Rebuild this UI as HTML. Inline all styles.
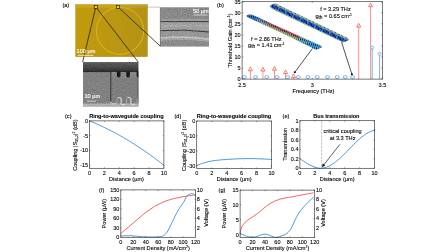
<!DOCTYPE html>
<html><head><meta charset="utf-8"><title>Figure</title>
<style>
html,body{margin:0;padding:0;background:#fff;}
body{width:448px;height:252px;overflow:hidden;}
svg{display:block;filter:blur(0.3px);}
text{font-family:"Liberation Sans",Arial,sans-serif;font-size:5.6px;fill:#0a0a0a;stroke:#0a0a0a;stroke-width:0.12px;}
.b{font-weight:bold;}
.w{fill:#fff;stroke:#fff;}
.ax{fill:none;stroke:#303030;stroke-width:0.65;}
.tk{stroke:#262626;stroke-width:0.5;fill:none;}
.bl{fill:none;stroke:#3a8fd0;stroke-width:0.9;stroke-linejoin:round;stroke-linecap:round;}
.rd{fill:none;stroke:#f05050;stroke-width:0.9;stroke-linejoin:round;stroke-linecap:round;}
</style></head><body>
<svg width="448" height="252" viewBox="0 0 448 252">
<defs>
<linearGradient id="gold" x1="0" y1="0" x2="1" y2="0">
<stop offset="0" stop-color="#c29a0c"/><stop offset="0.5" stop-color="#bb9712"/><stop offset="1" stop-color="#b39216"/>
</linearGradient>
<linearGradient id="semtop" x1="0" y1="0" x2="0" y2="1">
<stop offset="0" stop-color="#5a5a5a"/><stop offset="0.5" stop-color="#444"/><stop offset="0.85" stop-color="#2c2c2c"/><stop offset="1" stop-color="#1c1c1c"/>
</linearGradient>
<linearGradient id="rb1" gradientUnits="userSpaceOnUse" x1="0" y1="0" x2="3.2" y2="1.4" spreadMethod="repeat">
<stop offset="0" stop-color="#0a1a9a"/><stop offset="0.25" stop-color="#10b0e0"/><stop offset="0.45" stop-color="#40c040"/><stop offset="0.6" stop-color="#e0d020"/><stop offset="0.8" stop-color="#e04010"/><stop offset="1" stop-color="#0a1a9a"/>
</linearGradient>
<linearGradient id="rb2" gradientUnits="userSpaceOnUse" x1="0" y1="0" x2="4.2" y2="1.85" spreadMethod="repeat">
<stop offset="0" stop-color="#0a1a9a"/><stop offset="0.3" stop-color="#1060d0"/><stop offset="0.5" stop-color="#20b0c0"/><stop offset="0.65" stop-color="#c0d020"/><stop offset="0.8" stop-color="#e04010"/><stop offset="1" stop-color="#0a1a9a"/>
</linearGradient>
<filter id="grain" x="0" y="0" width="1" height="1" color-interpolation-filters="sRGB">
<feTurbulence type="fractalNoise" baseFrequency="0.75" numOctaves="2" seed="7" result="n"/>
<feColorMatrix in="n" type="matrix" values="2 0 0 0 -0.5  2 0 0 0 -0.5  2 0 0 0 -0.5  0 0 0 0 0.16"/>
</filter>
</defs>
<rect width="448" height="252" fill="#fff"/>

<text x="62.4" y="7.2">(a)</text>
<rect x="75.6" y="4.6" width="71.9" height="52.1" fill="url(#gold)" stroke="#a4840c" stroke-width="0.4"/>
<rect x="75.8" y="4.8" width="71.5" height="2.9" fill="#d8b01c" opacity="0.55"/>
<circle cx="120" cy="30.8" r="23.6" fill="none" stroke="#d9b31c" stroke-width="1.05"/>
<path d="M95.8 7 L82.6 62.1 M95.8 7 L138.3 62.1" stroke="#30280a" stroke-width="0.85" fill="none"/>
<path d="M118 6.6 L160.4 7.2" stroke="#8a8a8a" stroke-width="0.5" fill="none"/>
<path d="M118 7 L160.3 46.2" stroke="#30280a" stroke-width="0.85" fill="none"/>
<rect x="94.2" y="5.6" width="3.2" height="2.8" fill="#f4d418" stroke="#2a2204" stroke-width="0.7"/>
<rect x="116.4" y="5.6" width="3.2" height="2.8" fill="#f4d418" stroke="#2a2204" stroke-width="0.7"/>
<text class="w" x="76.6" y="52.8" style="font-size:5.6px">100 µm</text>
<path d="M77.7 55.3H93.4" stroke="#f6f0d8" stroke-width="0.85"/>
<g>
<rect x="160.3" y="7.3" width="48.7" height="38.9" fill="#8a8a8a"/>
<rect x="160.3" y="18.8" width="48.7" height="2.4" fill="#a0a0a0"/>
<rect x="160.3" y="22.1" width="48.7" height="8.6" fill="#a3a3a3"/>
<rect x="160.3" y="25.2" width="48.7" height="1.3" fill="#b0b0b0"/>
<path d="M160.3 30.6 Q184 28.9 209 32 V46.2 H160.3 Z" fill="#999"/>
<path d="M160.3 38.2 Q184 35.6 209 39.2 V42 Q184 38.6 160.3 41 Z" fill="#a8a8a8"/>
<path d="M160.3 41 Q184 38.6 209 42 V46.2 H160.3 Z" fill="#8c8c8c"/>
<path d="M160.3 21.6H209" stroke="#303030" stroke-width="0.95"/>
<path d="M160.3 30.7 Q184 28.9 209 32" stroke="#2a2a2a" stroke-width="0.95" fill="none"/>
<path d="M160.3 38.2 Q184 35.6 209 39.2" stroke="#e6e6e6" stroke-width="1.3" fill="none" stroke-dasharray="1.1 0.35"/>
<rect x="160.3" y="7.3" width="48.7" height="38.9" fill="#808080" filter="url(#grain)" opacity="0.75"/>
<path d="M160.3 7.3V46.2" stroke="#555" stroke-width="0.5"/>
<text class="w" x="193" y="12.7" style="font-size:5.6px">50 µm</text>
<path d="M193.5 15H207.6" stroke="#f0f0f0" stroke-width="0.7"/>
</g>
<g>
<rect x="83" y="62.1" width="55.3" height="44.3" fill="#818181"/>
<rect x="83" y="62.1" width="55.3" height="10" fill="url(#semtop)"/>
<rect x="111.2" y="72" width="27.1" height="31.5" fill="#7e7e7e"/>
<rect x="111.2" y="72" width="27.1" height="5.4" fill="#888"/>
<path d="M110.8 72V101.6" stroke="#262626" stroke-width="0.9"/>
<path d="M116.90 71.4 V75.8 Q116.90 77.4 118.70 77.4 Q120.50 77.4 120.50 75.8 V71.4 Z" fill="#101010"/>
<path d="M126.25 71.4 V75.8 Q126.25 77.4 128.05 77.4 Q129.85 77.4 129.85 75.8 V71.4 Z" fill="#101010"/>
<path d="M136.6 71.4 V76 Q136.6 77.4 138.3 77.4 V71.4 Z" fill="#101010"/>
<rect x="137.4" y="77" width="0.9" height="26" fill="#5c5c5c"/>
<rect x="83" y="103.5" width="55.3" height="2.9" fill="#b6b6b6"/>
<rect x="83" y="102.9" width="28" height="0.7" fill="#9a9a9a"/>
<path d="M111.5 104.3 H116.9 V98.6 Q116.9 97.6 117.9 97.6 H120 Q121.1 97.6 121.1 98.8 V103.4 Q121.1 104.4 122.2 104.4 H126.5 V98.6 Q126.5 97.6 127.5 97.6 H129.8 Q130.9 97.6 130.9 98.8 V103.4 Q130.9 104.4 132 104.4 H137 V98.6" stroke="#c4c4c4" stroke-width="0.6" fill="none"/>
<path d="M118 97.6 H120 Q121.1 97.6 121.1 98.8 V103.4 Q121.1 104.4 122.2 104.4 H125 M127.6 97.6 H129.8 Q130.9 97.6 130.9 98.8 V103.4 Q130.9 104.4 132 104.4 H135" stroke="#efefef" stroke-width="0.8" fill="none"/>
<circle cx="110.9" cy="102.6" r="0.7" fill="#eee"/><path d="M111.4 103.6 H116" stroke="#e4e4e4" stroke-width="0.6"/>
<rect x="83" y="62.1" width="55.3" height="44.3" fill="#808080" filter="url(#grain)" opacity="0.6"/>
<text class="w" x="84.4" y="98.1" style="font-size:5.6px">10 µm</text>
<path d="M87 101.2H96" stroke="#f0f0f0" stroke-width="0.7"/>
</g>
<text x="217" y="6.8">(b)</text>
<path d="M250.4 79.1V69.3" stroke="#f05050" stroke-width="0.6"/>
<path d="M250.40 67.20 L248.40 70.80 L252.40 70.80 Z" fill="#fff" stroke="#f03030" stroke-width="0.65"/>
<path d="M262.9 79.1V69.5" stroke="#f05050" stroke-width="0.6"/>
<path d="M262.90 67.40 L260.90 71.00 L264.90 71.00 Z" fill="#fff" stroke="#f03030" stroke-width="0.65"/>
<path d="M274.5 79.1V68.7" stroke="#f05050" stroke-width="0.6"/>
<path d="M274.50 66.60 L272.50 70.20 L276.50 70.20 Z" fill="#fff" stroke="#f03030" stroke-width="0.65"/>
<path d="M285.5 79.1V72.1" stroke="#f05050" stroke-width="0.6"/>
<path d="M285.50 70.00 L283.50 73.60 L287.50 73.60 Z" fill="#fff" stroke="#f03030" stroke-width="0.65"/>
<path d="M293.5 79.1V76.1" stroke="#f05050" stroke-width="0.6"/>
<path d="M293.50 74.00 L291.50 77.60 L295.50 77.60 Z" fill="#fff" stroke="#f03030" stroke-width="0.65"/>
<path d="M244.4 79.1V77" stroke="#3a8fd0" stroke-width="0.6"/>
<ellipse cx="244.4" cy="77.1" rx="2.0" ry="1.45" fill="#fff" stroke="#4a98d8" stroke-width="0.7"/>
<path d="M255.5 79.1V77" stroke="#3a8fd0" stroke-width="0.6"/>
<ellipse cx="255.5" cy="77.1" rx="2.0" ry="1.45" fill="#fff" stroke="#4a98d8" stroke-width="0.7"/>
<path d="M266.7 79.1V77" stroke="#3a8fd0" stroke-width="0.6"/>
<ellipse cx="266.7" cy="77.1" rx="2.0" ry="1.45" fill="#fff" stroke="#4a98d8" stroke-width="0.7"/>
<path d="M277.0 79.1V77" stroke="#3a8fd0" stroke-width="0.6"/>
<ellipse cx="277.0" cy="77.1" rx="2.0" ry="1.45" fill="#fff" stroke="#4a98d8" stroke-width="0.7"/>
<path d="M287.6 79.1V77" stroke="#3a8fd0" stroke-width="0.6"/>
<ellipse cx="287.6" cy="77.1" rx="2.0" ry="1.45" fill="#fff" stroke="#4a98d8" stroke-width="0.7"/>
<path d="M298.3 79.1V77" stroke="#3a8fd0" stroke-width="0.6"/>
<ellipse cx="298.3" cy="77.1" rx="2.0" ry="1.45" fill="#fff" stroke="#4a98d8" stroke-width="0.7"/>
<path d="M307.8 79.1V77" stroke="#3a8fd0" stroke-width="0.6"/>
<ellipse cx="307.8" cy="77.1" rx="2.0" ry="1.45" fill="#fff" stroke="#4a98d8" stroke-width="0.7"/>
<path d="M317.3 79.1V77" stroke="#3a8fd0" stroke-width="0.6"/>
<ellipse cx="317.3" cy="77.1" rx="2.0" ry="1.45" fill="#fff" stroke="#4a98d8" stroke-width="0.7"/>
<path d="M327.5 79.1V77" stroke="#3a8fd0" stroke-width="0.6"/>
<ellipse cx="327.5" cy="77.1" rx="2.0" ry="1.45" fill="#fff" stroke="#4a98d8" stroke-width="0.7"/>
<path d="M337.2 79.1V77" stroke="#3a8fd0" stroke-width="0.6"/>
<ellipse cx="337.2" cy="77.1" rx="2.0" ry="1.45" fill="#fff" stroke="#4a98d8" stroke-width="0.7"/>
<path d="M345.2 79.1V77" stroke="#3a8fd0" stroke-width="0.6"/>
<ellipse cx="345.2" cy="77.1" rx="2.0" ry="1.45" fill="#fff" stroke="#4a98d8" stroke-width="0.7"/>
<path d="M352.5 79.1V77" stroke="#3a8fd0" stroke-width="0.6"/>
<ellipse cx="352.5" cy="77.1" rx="2.0" ry="1.45" fill="#fff" stroke="#4a98d8" stroke-width="0.7"/>
<path d="M358.7 79.1V25.5" stroke="#f06060" stroke-width="0.7"/>
<path d="M358.70 23.40 L356.70 27.00 L360.70 27.00 Z" fill="#fff" stroke="#f03030" stroke-width="0.65"/>
<path d="M370.6 79.1V5.2" stroke="#f06060" stroke-width="0.7"/>
<path d="M370.60 3.10 L368.60 6.70 L372.60 6.70 Z" fill="#fff" stroke="#f03030" stroke-width="0.65"/>
<path d="M372.2 79.1V47.6" stroke="#3a8fd0" stroke-width="0.7"/>
<circle cx="372.2" cy="47.6" r="1.5" fill="#fff" stroke="#3a8fd0" stroke-width="0.6"/>
<path d="M379.6 79.1V53.8" stroke="#3a8fd0" stroke-width="0.7"/>
<circle cx="379.6" cy="53.8" r="1.5" fill="#fff" stroke="#3a8fd0" stroke-width="0.6"/>
<rect class="ax" x="242.1" y="1.7" width="140.3" height="77.4"/>
<path class="tk" d="M242.1 79.10h1.2M382.4 79.10h-1.2"/>
<text x="240.6" y="81.00" text-anchor="end" style="font-size:5.5px">0</text>
<path class="tk" d="M242.1 68.04h1.2M382.4 68.04h-1.2"/>
<text x="240.6" y="69.94" text-anchor="end" style="font-size:5.5px">5</text>
<path class="tk" d="M242.1 56.99h1.2M382.4 56.99h-1.2"/>
<text x="240.6" y="58.89" text-anchor="end" style="font-size:5.5px">10</text>
<path class="tk" d="M242.1 45.93h1.2M382.4 45.93h-1.2"/>
<text x="240.6" y="47.83" text-anchor="end" style="font-size:5.5px">15</text>
<path class="tk" d="M242.1 34.87h1.2M382.4 34.87h-1.2"/>
<text x="240.6" y="36.77" text-anchor="end" style="font-size:5.5px">20</text>
<path class="tk" d="M242.1 23.81h1.2M382.4 23.81h-1.2"/>
<text x="240.6" y="25.71" text-anchor="end" style="font-size:5.5px">25</text>
<path class="tk" d="M242.1 12.76h1.2M382.4 12.76h-1.2"/>
<text x="240.6" y="14.66" text-anchor="end" style="font-size:5.5px">30</text>
<path class="tk" d="M242.1 1.70h1.2M382.4 1.70h-1.2"/>
<text x="240.6" y="3.60" text-anchor="end" style="font-size:5.5px">35</text>
<path class="tk" d="M242.1 79.1v-1.2M242.1 1.7v1.2"/>
<text x="242.1" y="86.6" text-anchor="middle" style="font-size:5.5px">2.5</text>
<path class="tk" d="M312.2 79.1v-1.2M312.2 1.7v1.2"/>
<text x="312.2" y="86.6" text-anchor="middle" style="font-size:5.5px">3</text>
<path class="tk" d="M382.4 79.1v-1.2M382.4 1.7v1.2"/>
<text x="382.4" y="86.6" text-anchor="middle" style="font-size:5.5px">3.5</text>
<text x="313.5" y="93.4" text-anchor="middle">Frequency (THz)</text>
<text transform="translate(231.6 40.5) rotate(-90)" text-anchor="middle">Threshold Gain (cm<tspan dy="-1.8" style="font-size:3.6px">-1</tspan><tspan dy="1.8">)</tspan></text>
<clipPath id="wg1"><polygon points="246.3,15.8 248.8,14.5 252.2,14.7 286,29.9 321.3,45.6 321.8,47.6 316.2,49.8 286,35.0 248.2,17.5"/></clipPath>
<g clip-path="url(#wg1)"><g transform="matrix(0.9121 0.4099 -0.3090 0.9511 251.80 14.20)">
<rect x="-6.00" y="-1.00" width="1.05" height="10.00" fill="#050c66"/>
<rect x="-5.00" y="-1.00" width="1.05" height="10.00" fill="#1280c0"/>
<rect x="-4.00" y="-1.00" width="1.05" height="10.00" fill="#050c66"/>
<rect x="-3.00" y="-1.00" width="1.05" height="10.00" fill="#1280c0"/>
<rect x="-2.00" y="-1.00" width="1.05" height="10.00" fill="#050c66"/>
<rect x="-1.00" y="-1.00" width="1.05" height="10.00" fill="#1280c0"/>
<rect x="0.00" y="-1.00" width="1.05" height="10.00" fill="#050c66"/>
<rect x="1.00" y="-1.00" width="1.05" height="10.00" fill="#1280c0"/>
<rect x="2.00" y="-1.00" width="1.05" height="10.00" fill="#050c66"/>
<rect x="3.00" y="-1.00" width="1.05" height="10.00" fill="#1280c0"/>
<rect x="4.00" y="-1.00" width="1.05" height="10.00" fill="#050c66"/>
<rect x="5.00" y="-1.00" width="1.05" height="10.00" fill="#1280c0"/>
<rect x="6.00" y="-1.00" width="1.05" height="3.80" fill="#060e70"/>
<rect x="7.00" y="-1.00" width="1.05" height="3.80" fill="#1890c4"/>
<rect x="6.00" y="2.80" width="1.05" height="6.20" fill="#144098"/>
<rect x="7.00" y="2.80" width="1.05" height="6.20" fill="#50b858"/>
<rect x="8.00" y="-1.00" width="1.05" height="3.80" fill="#060e70"/>
<rect x="9.00" y="-1.00" width="1.05" height="3.80" fill="#1890c4"/>
<rect x="8.00" y="2.80" width="1.05" height="6.20" fill="#144098"/>
<rect x="9.00" y="2.80" width="1.05" height="6.20" fill="#50b858"/>
<rect x="10.00" y="-1.00" width="1.05" height="2.80" fill="#08127c"/>
<rect x="11.00" y="-1.00" width="1.05" height="2.80" fill="#1c98c8"/>
<rect x="10.00" y="1.80" width="1.05" height="1.40" fill="#0c1880"/>
<rect x="11.00" y="1.80" width="1.05" height="1.40" fill="#d06020"/>
<rect x="10.00" y="3.20" width="1.05" height="5.80" fill="#18408c"/>
<rect x="11.00" y="3.20" width="1.05" height="5.80" fill="#a0c838"/>
<rect x="12.00" y="-1.00" width="1.05" height="2.80" fill="#08127c"/>
<rect x="13.00" y="-1.00" width="1.05" height="2.80" fill="#1c98c8"/>
<rect x="12.00" y="1.80" width="1.05" height="1.40" fill="#0c1880"/>
<rect x="13.00" y="1.80" width="1.05" height="1.40" fill="#d06020"/>
<rect x="12.00" y="3.20" width="1.05" height="5.80" fill="#18408c"/>
<rect x="13.00" y="3.20" width="1.05" height="5.80" fill="#a0c838"/>
<rect x="14.00" y="-1.00" width="1.05" height="2.80" fill="#08127c"/>
<rect x="15.00" y="-1.00" width="1.05" height="2.80" fill="#1c98c8"/>
<rect x="14.00" y="1.80" width="1.05" height="1.40" fill="#0c1880"/>
<rect x="15.00" y="1.80" width="1.05" height="1.40" fill="#d06020"/>
<rect x="14.00" y="3.20" width="1.05" height="5.80" fill="#18408c"/>
<rect x="15.00" y="3.20" width="1.05" height="5.80" fill="#a0c838"/>
<rect x="16.00" y="-1.00" width="1.05" height="2.80" fill="#08127c"/>
<rect x="17.00" y="-1.00" width="1.05" height="2.80" fill="#1c98c8"/>
<rect x="16.00" y="1.80" width="1.05" height="1.40" fill="#0c1880"/>
<rect x="17.00" y="1.80" width="1.05" height="1.40" fill="#d06020"/>
<rect x="16.00" y="3.20" width="1.05" height="5.80" fill="#18408c"/>
<rect x="17.00" y="3.20" width="1.05" height="5.80" fill="#a0c838"/>
<rect x="18.00" y="-1.00" width="1.05" height="1.90" fill="#b83818"/>
<rect x="19.00" y="-1.00" width="1.05" height="1.90" fill="#d87028"/>
<rect x="18.00" y="0.90" width="1.05" height="2.00" fill="#080e66"/>
<rect x="19.00" y="0.90" width="1.05" height="2.00" fill="#c83414"/>
<rect x="18.00" y="2.90" width="1.05" height="1.10" fill="#0c2080"/>
<rect x="19.00" y="2.90" width="1.05" height="1.10" fill="#d89818"/>
<rect x="18.00" y="4.00" width="1.05" height="5.00" fill="#1c8858"/>
<rect x="19.00" y="4.00" width="1.05" height="5.00" fill="#a8c828"/>
<rect x="20.00" y="-1.00" width="1.05" height="1.90" fill="#b83818"/>
<rect x="21.00" y="-1.00" width="1.05" height="1.90" fill="#d87028"/>
<rect x="20.00" y="0.90" width="1.05" height="2.00" fill="#080e66"/>
<rect x="21.00" y="0.90" width="1.05" height="2.00" fill="#c83414"/>
<rect x="20.00" y="2.90" width="1.05" height="1.10" fill="#0c2080"/>
<rect x="21.00" y="2.90" width="1.05" height="1.10" fill="#d89818"/>
<rect x="20.00" y="4.00" width="1.05" height="5.00" fill="#1c8858"/>
<rect x="21.00" y="4.00" width="1.05" height="5.00" fill="#a8c828"/>
<rect x="22.00" y="-1.00" width="1.05" height="1.90" fill="#b83818"/>
<rect x="23.00" y="-1.00" width="1.05" height="1.90" fill="#d87028"/>
<rect x="22.00" y="0.90" width="1.05" height="2.00" fill="#080e66"/>
<rect x="23.00" y="0.90" width="1.05" height="2.00" fill="#c83414"/>
<rect x="22.00" y="2.90" width="1.05" height="1.10" fill="#0c2080"/>
<rect x="23.00" y="2.90" width="1.05" height="1.10" fill="#d89818"/>
<rect x="22.00" y="4.00" width="1.05" height="5.00" fill="#1c8858"/>
<rect x="23.00" y="4.00" width="1.05" height="5.00" fill="#a8c828"/>
<rect x="24.00" y="-1.00" width="1.05" height="1.90" fill="#b83818"/>
<rect x="25.00" y="-1.00" width="1.05" height="1.90" fill="#d87028"/>
<rect x="24.00" y="0.90" width="1.05" height="2.00" fill="#080e66"/>
<rect x="25.00" y="0.90" width="1.05" height="2.00" fill="#c83414"/>
<rect x="24.00" y="2.90" width="1.05" height="1.10" fill="#0c2080"/>
<rect x="25.00" y="2.90" width="1.05" height="1.10" fill="#d89818"/>
<rect x="24.00" y="4.00" width="1.05" height="5.00" fill="#1c8858"/>
<rect x="25.00" y="4.00" width="1.05" height="5.00" fill="#a8c828"/>
<rect x="26.00" y="-1.00" width="1.05" height="1.90" fill="#b83818"/>
<rect x="27.00" y="-1.00" width="1.05" height="1.90" fill="#d87028"/>
<rect x="26.00" y="0.90" width="1.05" height="2.00" fill="#080e66"/>
<rect x="27.00" y="0.90" width="1.05" height="2.00" fill="#c83414"/>
<rect x="26.00" y="2.90" width="1.05" height="1.10" fill="#0c2080"/>
<rect x="27.00" y="2.90" width="1.05" height="1.10" fill="#d89818"/>
<rect x="26.00" y="4.00" width="1.05" height="5.00" fill="#1c8858"/>
<rect x="27.00" y="4.00" width="1.05" height="5.00" fill="#a8c828"/>
<rect x="28.00" y="-1.00" width="1.05" height="1.90" fill="#b83818"/>
<rect x="29.00" y="-1.00" width="1.05" height="1.90" fill="#d87028"/>
<rect x="28.00" y="0.90" width="1.05" height="2.00" fill="#080e66"/>
<rect x="29.00" y="0.90" width="1.05" height="2.00" fill="#c83414"/>
<rect x="28.00" y="2.90" width="1.05" height="1.10" fill="#0c2080"/>
<rect x="29.00" y="2.90" width="1.05" height="1.10" fill="#d89818"/>
<rect x="28.00" y="4.00" width="1.05" height="5.00" fill="#1c8858"/>
<rect x="29.00" y="4.00" width="1.05" height="5.00" fill="#a8c828"/>
<rect x="30.00" y="-1.00" width="1.05" height="1.90" fill="#b83818"/>
<rect x="31.00" y="-1.00" width="1.05" height="1.90" fill="#d87028"/>
<rect x="30.00" y="0.90" width="1.05" height="2.00" fill="#080e66"/>
<rect x="31.00" y="0.90" width="1.05" height="2.00" fill="#c83414"/>
<rect x="30.00" y="2.90" width="1.05" height="1.10" fill="#0c2080"/>
<rect x="31.00" y="2.90" width="1.05" height="1.10" fill="#d89818"/>
<rect x="30.00" y="4.00" width="1.05" height="5.00" fill="#1c8858"/>
<rect x="31.00" y="4.00" width="1.05" height="5.00" fill="#a8c828"/>
<rect x="32.00" y="-1.00" width="1.05" height="1.90" fill="#b83818"/>
<rect x="33.00" y="-1.00" width="1.05" height="1.90" fill="#d87028"/>
<rect x="32.00" y="0.90" width="1.05" height="2.00" fill="#080e66"/>
<rect x="33.00" y="0.90" width="1.05" height="2.00" fill="#c83414"/>
<rect x="32.00" y="2.90" width="1.05" height="1.10" fill="#0c2080"/>
<rect x="33.00" y="2.90" width="1.05" height="1.10" fill="#d89818"/>
<rect x="32.00" y="4.00" width="1.05" height="5.00" fill="#1c8858"/>
<rect x="33.00" y="4.00" width="1.05" height="5.00" fill="#a8c828"/>
<rect x="34.00" y="-1.00" width="1.05" height="1.90" fill="#b83818"/>
<rect x="35.00" y="-1.00" width="1.05" height="1.90" fill="#d87028"/>
<rect x="34.00" y="0.90" width="1.05" height="2.00" fill="#080e66"/>
<rect x="35.00" y="0.90" width="1.05" height="2.00" fill="#c83414"/>
<rect x="34.00" y="2.90" width="1.05" height="1.10" fill="#0c2080"/>
<rect x="35.00" y="2.90" width="1.05" height="1.10" fill="#d89818"/>
<rect x="34.00" y="4.00" width="1.05" height="5.00" fill="#1c8858"/>
<rect x="35.00" y="4.00" width="1.05" height="5.00" fill="#a8c828"/>
<rect x="36.00" y="-1.00" width="1.05" height="1.90" fill="#b83818"/>
<rect x="37.00" y="-1.00" width="1.05" height="1.90" fill="#d87028"/>
<rect x="36.00" y="0.90" width="1.05" height="2.00" fill="#080e66"/>
<rect x="37.00" y="0.90" width="1.05" height="2.00" fill="#c83414"/>
<rect x="36.00" y="2.90" width="1.05" height="1.10" fill="#0c2080"/>
<rect x="37.00" y="2.90" width="1.05" height="1.10" fill="#d89818"/>
<rect x="36.00" y="4.00" width="1.05" height="5.00" fill="#1c8858"/>
<rect x="37.00" y="4.00" width="1.05" height="5.00" fill="#a8c828"/>
<rect x="38.00" y="-1.00" width="1.05" height="1.90" fill="#b83818"/>
<rect x="39.00" y="-1.00" width="1.05" height="1.90" fill="#d87028"/>
<rect x="38.00" y="0.90" width="1.05" height="2.00" fill="#080e66"/>
<rect x="39.00" y="0.90" width="1.05" height="2.00" fill="#c83414"/>
<rect x="38.00" y="2.90" width="1.05" height="1.10" fill="#0c2080"/>
<rect x="39.00" y="2.90" width="1.05" height="1.10" fill="#d89818"/>
<rect x="38.00" y="4.00" width="1.05" height="5.00" fill="#1c8858"/>
<rect x="39.00" y="4.00" width="1.05" height="5.00" fill="#a8c828"/>
<rect x="40.00" y="-1.00" width="1.05" height="1.90" fill="#b83818"/>
<rect x="41.00" y="-1.00" width="1.05" height="1.90" fill="#d87028"/>
<rect x="40.00" y="0.90" width="1.05" height="2.00" fill="#080e66"/>
<rect x="41.00" y="0.90" width="1.05" height="2.00" fill="#c83414"/>
<rect x="40.00" y="2.90" width="1.05" height="1.10" fill="#0c2080"/>
<rect x="41.00" y="2.90" width="1.05" height="1.10" fill="#d89818"/>
<rect x="40.00" y="4.00" width="1.05" height="5.00" fill="#1c8858"/>
<rect x="41.00" y="4.00" width="1.05" height="5.00" fill="#a8c828"/>
<rect x="42.00" y="-1.00" width="1.05" height="1.90" fill="#b83818"/>
<rect x="43.00" y="-1.00" width="1.05" height="1.90" fill="#d87028"/>
<rect x="42.00" y="0.90" width="1.05" height="2.00" fill="#080e66"/>
<rect x="43.00" y="0.90" width="1.05" height="2.00" fill="#c83414"/>
<rect x="42.00" y="2.90" width="1.05" height="1.10" fill="#0c2080"/>
<rect x="43.00" y="2.90" width="1.05" height="1.10" fill="#d89818"/>
<rect x="42.00" y="4.00" width="1.05" height="5.00" fill="#1c8858"/>
<rect x="43.00" y="4.00" width="1.05" height="5.00" fill="#a8c828"/>
<rect x="44.00" y="-1.00" width="1.05" height="1.90" fill="#b83818"/>
<rect x="45.00" y="-1.00" width="1.05" height="1.90" fill="#d87028"/>
<rect x="44.00" y="0.90" width="1.05" height="2.00" fill="#080e66"/>
<rect x="45.00" y="0.90" width="1.05" height="2.00" fill="#c83414"/>
<rect x="44.00" y="2.90" width="1.05" height="1.10" fill="#0c2080"/>
<rect x="45.00" y="2.90" width="1.05" height="1.10" fill="#d89818"/>
<rect x="44.00" y="4.00" width="1.05" height="5.00" fill="#1c8858"/>
<rect x="45.00" y="4.00" width="1.05" height="5.00" fill="#a8c828"/>
<rect x="46.00" y="-1.00" width="1.05" height="1.90" fill="#b83818"/>
<rect x="47.00" y="-1.00" width="1.05" height="1.90" fill="#d87028"/>
<rect x="46.00" y="0.90" width="1.05" height="2.00" fill="#080e66"/>
<rect x="47.00" y="0.90" width="1.05" height="2.00" fill="#c83414"/>
<rect x="46.00" y="2.90" width="1.05" height="1.10" fill="#0c2080"/>
<rect x="47.00" y="2.90" width="1.05" height="1.10" fill="#d89818"/>
<rect x="46.00" y="4.00" width="1.05" height="5.00" fill="#1c8858"/>
<rect x="47.00" y="4.00" width="1.05" height="5.00" fill="#a8c828"/>
<rect x="48.00" y="-1.00" width="1.05" height="1.90" fill="#b83818"/>
<rect x="49.00" y="-1.00" width="1.05" height="1.90" fill="#d87028"/>
<rect x="48.00" y="0.90" width="1.05" height="2.00" fill="#080e66"/>
<rect x="49.00" y="0.90" width="1.05" height="2.00" fill="#c83414"/>
<rect x="48.00" y="2.90" width="1.05" height="1.10" fill="#0c2080"/>
<rect x="49.00" y="2.90" width="1.05" height="1.10" fill="#d89818"/>
<rect x="48.00" y="4.00" width="1.05" height="5.00" fill="#1c8858"/>
<rect x="49.00" y="4.00" width="1.05" height="5.00" fill="#a8c828"/>
<rect x="50.00" y="-1.00" width="1.05" height="1.90" fill="#b83818"/>
<rect x="51.00" y="-1.00" width="1.05" height="1.90" fill="#d87028"/>
<rect x="50.00" y="0.90" width="1.05" height="2.00" fill="#080e66"/>
<rect x="51.00" y="0.90" width="1.05" height="2.00" fill="#c83414"/>
<rect x="50.00" y="2.90" width="1.05" height="1.10" fill="#0c2080"/>
<rect x="51.00" y="2.90" width="1.05" height="1.10" fill="#d89818"/>
<rect x="50.00" y="4.00" width="1.05" height="5.00" fill="#1c8858"/>
<rect x="51.00" y="4.00" width="1.05" height="5.00" fill="#a8c828"/>
<rect x="52.00" y="-1.00" width="1.05" height="1.90" fill="#c8a020"/>
<rect x="53.00" y="-1.00" width="1.05" height="1.90" fill="#a0c840"/>
<rect x="52.00" y="0.90" width="1.05" height="2.70" fill="#0a1678"/>
<rect x="53.00" y="0.90" width="1.05" height="2.70" fill="#28b0c0"/>
<rect x="52.00" y="3.60" width="1.05" height="5.40" fill="#143090"/>
<rect x="53.00" y="3.60" width="1.05" height="5.40" fill="#58c060"/>
<rect x="54.00" y="-1.00" width="1.05" height="1.90" fill="#c8a020"/>
<rect x="55.00" y="-1.00" width="1.05" height="1.90" fill="#a0c840"/>
<rect x="54.00" y="0.90" width="1.05" height="2.70" fill="#0a1678"/>
<rect x="55.00" y="0.90" width="1.05" height="2.70" fill="#28b0c0"/>
<rect x="54.00" y="3.60" width="1.05" height="5.40" fill="#143090"/>
<rect x="55.00" y="3.60" width="1.05" height="5.40" fill="#58c060"/>
<rect x="56.00" y="-1.00" width="1.05" height="1.90" fill="#c8a020"/>
<rect x="57.00" y="-1.00" width="1.05" height="1.90" fill="#a0c840"/>
<rect x="56.00" y="0.90" width="1.05" height="2.70" fill="#0a1678"/>
<rect x="57.00" y="0.90" width="1.05" height="2.70" fill="#28b0c0"/>
<rect x="56.00" y="3.60" width="1.05" height="5.40" fill="#143090"/>
<rect x="57.00" y="3.60" width="1.05" height="5.40" fill="#58c060"/>
<rect x="58.00" y="-1.00" width="1.05" height="1.90" fill="#c8a020"/>
<rect x="59.00" y="-1.00" width="1.05" height="1.90" fill="#a0c840"/>
<rect x="58.00" y="0.90" width="1.05" height="2.70" fill="#0a1678"/>
<rect x="59.00" y="0.90" width="1.05" height="2.70" fill="#28b0c0"/>
<rect x="58.00" y="3.60" width="1.05" height="5.40" fill="#143090"/>
<rect x="59.00" y="3.60" width="1.05" height="5.40" fill="#58c060"/>
<rect x="60.00" y="-1.00" width="1.05" height="1.90" fill="#c8a020"/>
<rect x="61.00" y="-1.00" width="1.05" height="1.90" fill="#a0c840"/>
<rect x="60.00" y="0.90" width="1.05" height="2.70" fill="#0a1678"/>
<rect x="61.00" y="0.90" width="1.05" height="2.70" fill="#28b0c0"/>
<rect x="60.00" y="3.60" width="1.05" height="5.40" fill="#143090"/>
<rect x="61.00" y="3.60" width="1.05" height="5.40" fill="#58c060"/>
<rect x="62.00" y="-1.00" width="1.05" height="1.70" fill="#58b850"/>
<rect x="63.00" y="-1.00" width="1.05" height="1.70" fill="#b8d040"/>
<rect x="62.00" y="0.70" width="1.05" height="8.30" fill="#081684"/>
<rect x="63.00" y="0.70" width="1.05" height="8.30" fill="#18b0d8"/>
<rect x="64.00" y="-1.00" width="1.05" height="1.70" fill="#58b850"/>
<rect x="65.00" y="-1.00" width="1.05" height="1.70" fill="#b8d040"/>
<rect x="64.00" y="0.70" width="1.05" height="8.30" fill="#081684"/>
<rect x="65.00" y="0.70" width="1.05" height="8.30" fill="#18b0d8"/>
<rect x="66.00" y="-1.00" width="1.05" height="1.70" fill="#58b850"/>
<rect x="67.00" y="-1.00" width="1.05" height="1.70" fill="#b8d040"/>
<rect x="66.00" y="0.70" width="1.05" height="8.30" fill="#081684"/>
<rect x="67.00" y="0.70" width="1.05" height="8.30" fill="#18b0d8"/>
<rect x="68.00" y="-1.00" width="1.05" height="1.70" fill="#58b850"/>
<rect x="69.00" y="-1.00" width="1.05" height="1.70" fill="#b8d040"/>
<rect x="68.00" y="0.70" width="1.05" height="8.30" fill="#081684"/>
<rect x="69.00" y="0.70" width="1.05" height="8.30" fill="#18b0d8"/>
<rect x="70.00" y="-1.00" width="1.05" height="1.70" fill="#58b850"/>
<rect x="71.00" y="-1.00" width="1.05" height="1.70" fill="#b8d040"/>
<rect x="70.00" y="0.70" width="1.05" height="8.30" fill="#081684"/>
<rect x="71.00" y="0.70" width="1.05" height="8.30" fill="#18b0d8"/>
<rect x="72.00" y="-1.00" width="1.05" height="1.70" fill="#58b850"/>
<rect x="73.00" y="-1.00" width="1.05" height="1.70" fill="#b8d040"/>
<rect x="72.00" y="0.70" width="1.05" height="8.30" fill="#081684"/>
<rect x="73.00" y="0.70" width="1.05" height="8.30" fill="#18b0d8"/>
<rect x="74.00" y="-1.00" width="1.05" height="1.70" fill="#58b850"/>
<rect x="75.00" y="-1.00" width="1.05" height="1.70" fill="#b8d040"/>
<rect x="74.00" y="0.70" width="1.05" height="8.30" fill="#081684"/>
<rect x="75.00" y="0.70" width="1.05" height="8.30" fill="#18b0d8"/>
<rect x="76.00" y="-1.00" width="1.05" height="1.70" fill="#58b850"/>
<rect x="77.00" y="-1.00" width="1.05" height="1.70" fill="#b8d040"/>
<rect x="76.00" y="0.70" width="1.05" height="8.30" fill="#081684"/>
<rect x="77.00" y="0.70" width="1.05" height="8.30" fill="#18b0d8"/>
<rect x="78.00" y="-1.00" width="1.05" height="1.70" fill="#58b850"/>
<rect x="79.00" y="-1.00" width="1.05" height="1.70" fill="#b8d040"/>
<rect x="78.00" y="0.70" width="1.05" height="8.30" fill="#081684"/>
<rect x="79.00" y="0.70" width="1.05" height="8.30" fill="#18b0d8"/>
<rect x="80.00" y="-1.00" width="1.05" height="1.70" fill="#58b850"/>
<rect x="81.00" y="-1.00" width="1.05" height="1.70" fill="#b8d040"/>
<rect x="80.00" y="0.70" width="1.05" height="8.30" fill="#081684"/>
<rect x="81.00" y="0.70" width="1.05" height="8.30" fill="#18b0d8"/>
<rect x="82.00" y="-1.00" width="1.05" height="1.70" fill="#58b850"/>
<rect x="83.00" y="-1.00" width="1.05" height="1.70" fill="#b8d040"/>
<rect x="82.00" y="0.70" width="1.05" height="8.30" fill="#081684"/>
<rect x="83.00" y="0.70" width="1.05" height="8.30" fill="#18b0d8"/>
<rect x="84.00" y="-1.00" width="1.05" height="1.70" fill="#58b850"/>
<rect x="85.00" y="-1.00" width="1.05" height="1.70" fill="#b8d040"/>
<rect x="84.00" y="0.70" width="1.05" height="8.30" fill="#081684"/>
<rect x="85.00" y="0.70" width="1.05" height="8.30" fill="#18b0d8"/>
<rect x="86.00" y="-1.00" width="1.05" height="1.70" fill="#58b850"/>
<rect x="87.00" y="-1.00" width="1.05" height="1.70" fill="#b8d040"/>
<rect x="86.00" y="0.70" width="1.05" height="8.30" fill="#081684"/>
<rect x="87.00" y="0.70" width="1.05" height="8.30" fill="#18b0d8"/>
</g></g>
<clipPath id="wg2"><polygon points="269.6,6.2 272.4,4.0 275.5,3.4 347.8,38.0 349.0,39.9 343.2,42.4 272.0,9.0"/></clipPath>
<g clip-path="url(#wg2)"><g transform="matrix(0.9018 0.4321 -0.3090 0.9511 275.50 3.40)">
<rect x="-8.10" y="-1.00" width="1.40" height="2.10" fill="#d83818"/>
<rect x="-6.75" y="-1.00" width="1.40" height="2.10" fill="#2868c0"/>
<rect x="-8.10" y="1.10" width="1.40" height="1.00" fill="#38b0a0"/>
<rect x="-6.75" y="1.10" width="1.40" height="1.00" fill="#1868c8"/>
<rect x="-8.10" y="2.10" width="1.40" height="3.40" fill="#050e72"/>
<rect x="-6.75" y="2.10" width="1.40" height="3.40" fill="#0a2ca4"/>
<rect x="-8.10" y="5.50" width="1.40" height="0.80" fill="#2090c0"/>
<rect x="-6.75" y="5.50" width="1.40" height="0.80" fill="#48c060"/>
<rect x="-8.10" y="6.30" width="1.40" height="3.70" fill="#e8a020"/>
<rect x="-6.75" y="6.30" width="1.40" height="3.70" fill="#c83018"/>
<rect x="-5.40" y="-1.00" width="1.40" height="2.10" fill="#e8b020"/>
<rect x="-4.05" y="-1.00" width="1.40" height="2.10" fill="#58c048"/>
<rect x="-5.40" y="1.10" width="1.40" height="1.00" fill="#38b0a0"/>
<rect x="-4.05" y="1.10" width="1.40" height="1.00" fill="#1868c8"/>
<rect x="-5.40" y="2.10" width="1.40" height="3.40" fill="#061a84"/>
<rect x="-4.05" y="2.10" width="1.40" height="3.40" fill="#1484c0"/>
<rect x="-5.40" y="5.50" width="1.40" height="0.80" fill="#2090c0"/>
<rect x="-4.05" y="5.50" width="1.40" height="0.80" fill="#48c060"/>
<rect x="-5.40" y="6.30" width="1.40" height="3.70" fill="#2890b0"/>
<rect x="-4.05" y="6.30" width="1.40" height="3.70" fill="#d84018"/>
<rect x="-2.70" y="-1.00" width="1.40" height="2.10" fill="#1848b0"/>
<rect x="-1.35" y="-1.00" width="1.40" height="2.10" fill="#d8c020"/>
<rect x="-2.70" y="1.10" width="1.40" height="1.00" fill="#38b0a0"/>
<rect x="-1.35" y="1.10" width="1.40" height="1.00" fill="#1868c8"/>
<rect x="-2.70" y="2.10" width="1.40" height="3.40" fill="#050e72"/>
<rect x="-1.35" y="2.10" width="1.40" height="3.40" fill="#0a2ca4"/>
<rect x="-2.70" y="5.50" width="1.40" height="0.80" fill="#2090c0"/>
<rect x="-1.35" y="5.50" width="1.40" height="0.80" fill="#48c060"/>
<rect x="-2.70" y="6.30" width="1.40" height="3.70" fill="#60c048"/>
<rect x="-1.35" y="6.30" width="1.40" height="3.70" fill="#e07018"/>
<rect x="0.00" y="-1.00" width="1.40" height="2.10" fill="#d83818"/>
<rect x="1.35" y="-1.00" width="1.40" height="2.10" fill="#2868c0"/>
<rect x="0.00" y="1.10" width="1.40" height="1.00" fill="#38b0a0"/>
<rect x="1.35" y="1.10" width="1.40" height="1.00" fill="#1868c8"/>
<rect x="0.00" y="2.10" width="1.40" height="3.40" fill="#050e72"/>
<rect x="1.35" y="2.10" width="1.40" height="3.40" fill="#0a2ca4"/>
<rect x="0.00" y="5.50" width="1.40" height="0.80" fill="#2090c0"/>
<rect x="1.35" y="5.50" width="1.40" height="0.80" fill="#48c060"/>
<rect x="0.00" y="6.30" width="1.40" height="3.70" fill="#e8a020"/>
<rect x="1.35" y="6.30" width="1.40" height="3.70" fill="#c83018"/>
<rect x="2.70" y="-1.00" width="1.40" height="2.10" fill="#e8b020"/>
<rect x="4.05" y="-1.00" width="1.40" height="2.10" fill="#58c048"/>
<rect x="2.70" y="1.10" width="1.40" height="1.00" fill="#38b0a0"/>
<rect x="4.05" y="1.10" width="1.40" height="1.00" fill="#1868c8"/>
<rect x="2.70" y="2.10" width="1.40" height="3.40" fill="#061a84"/>
<rect x="4.05" y="2.10" width="1.40" height="3.40" fill="#1484c0"/>
<rect x="2.70" y="5.50" width="1.40" height="0.80" fill="#2090c0"/>
<rect x="4.05" y="5.50" width="1.40" height="0.80" fill="#48c060"/>
<rect x="2.70" y="6.30" width="1.40" height="3.70" fill="#2890b0"/>
<rect x="4.05" y="6.30" width="1.40" height="3.70" fill="#d84018"/>
<rect x="5.40" y="-1.00" width="1.40" height="2.10" fill="#1848b0"/>
<rect x="6.75" y="-1.00" width="1.40" height="2.10" fill="#d8c020"/>
<rect x="5.40" y="1.10" width="1.40" height="1.00" fill="#38b0a0"/>
<rect x="6.75" y="1.10" width="1.40" height="1.00" fill="#1868c8"/>
<rect x="5.40" y="2.10" width="1.40" height="3.40" fill="#050e72"/>
<rect x="6.75" y="2.10" width="1.40" height="3.40" fill="#0a2ca4"/>
<rect x="5.40" y="5.50" width="1.40" height="0.80" fill="#2090c0"/>
<rect x="6.75" y="5.50" width="1.40" height="0.80" fill="#48c060"/>
<rect x="5.40" y="6.30" width="1.40" height="3.70" fill="#60c048"/>
<rect x="6.75" y="6.30" width="1.40" height="3.70" fill="#e07018"/>
<rect x="8.10" y="-1.00" width="1.40" height="2.10" fill="#d83818"/>
<rect x="9.45" y="-1.00" width="1.40" height="2.10" fill="#2868c0"/>
<rect x="8.10" y="1.10" width="1.40" height="1.00" fill="#38b0a0"/>
<rect x="9.45" y="1.10" width="1.40" height="1.00" fill="#1868c8"/>
<rect x="8.10" y="2.10" width="1.40" height="3.40" fill="#050e72"/>
<rect x="9.45" y="2.10" width="1.40" height="3.40" fill="#0a2ca4"/>
<rect x="8.10" y="5.50" width="1.40" height="0.80" fill="#2090c0"/>
<rect x="9.45" y="5.50" width="1.40" height="0.80" fill="#48c060"/>
<rect x="8.10" y="6.30" width="1.40" height="3.70" fill="#e8a020"/>
<rect x="9.45" y="6.30" width="1.40" height="3.70" fill="#c83018"/>
<rect x="10.80" y="-1.00" width="1.40" height="2.10" fill="#e8b020"/>
<rect x="12.15" y="-1.00" width="1.40" height="2.10" fill="#58c048"/>
<rect x="10.80" y="1.10" width="1.40" height="1.00" fill="#38b0a0"/>
<rect x="12.15" y="1.10" width="1.40" height="1.00" fill="#1868c8"/>
<rect x="10.80" y="2.10" width="1.40" height="3.40" fill="#061a84"/>
<rect x="12.15" y="2.10" width="1.40" height="3.40" fill="#1484c0"/>
<rect x="10.80" y="5.50" width="1.40" height="0.80" fill="#2090c0"/>
<rect x="12.15" y="5.50" width="1.40" height="0.80" fill="#48c060"/>
<rect x="10.80" y="6.30" width="1.40" height="3.70" fill="#2890b0"/>
<rect x="12.15" y="6.30" width="1.40" height="3.70" fill="#d84018"/>
<rect x="13.50" y="-1.00" width="1.40" height="2.10" fill="#1848b0"/>
<rect x="14.85" y="-1.00" width="1.40" height="2.10" fill="#d8c020"/>
<rect x="13.50" y="1.10" width="1.40" height="1.00" fill="#38b0a0"/>
<rect x="14.85" y="1.10" width="1.40" height="1.00" fill="#1868c8"/>
<rect x="13.50" y="2.10" width="1.40" height="3.40" fill="#050e72"/>
<rect x="14.85" y="2.10" width="1.40" height="3.40" fill="#0a2ca4"/>
<rect x="13.50" y="5.50" width="1.40" height="0.80" fill="#2090c0"/>
<rect x="14.85" y="5.50" width="1.40" height="0.80" fill="#48c060"/>
<rect x="13.50" y="6.30" width="1.40" height="3.70" fill="#60c048"/>
<rect x="14.85" y="6.30" width="1.40" height="3.70" fill="#e07018"/>
<rect x="16.20" y="-1.00" width="1.40" height="2.10" fill="#d83818"/>
<rect x="17.55" y="-1.00" width="1.40" height="2.10" fill="#2868c0"/>
<rect x="16.20" y="1.10" width="1.40" height="1.00" fill="#38b0a0"/>
<rect x="17.55" y="1.10" width="1.40" height="1.00" fill="#1868c8"/>
<rect x="16.20" y="2.10" width="1.40" height="3.40" fill="#050e72"/>
<rect x="17.55" y="2.10" width="1.40" height="3.40" fill="#0a2ca4"/>
<rect x="16.20" y="5.50" width="1.40" height="0.80" fill="#2090c0"/>
<rect x="17.55" y="5.50" width="1.40" height="0.80" fill="#48c060"/>
<rect x="16.20" y="6.30" width="1.40" height="3.70" fill="#e8a020"/>
<rect x="17.55" y="6.30" width="1.40" height="3.70" fill="#c83018"/>
<rect x="18.90" y="-1.00" width="1.40" height="2.10" fill="#e8b020"/>
<rect x="20.25" y="-1.00" width="1.40" height="2.10" fill="#58c048"/>
<rect x="18.90" y="1.10" width="1.40" height="1.00" fill="#38b0a0"/>
<rect x="20.25" y="1.10" width="1.40" height="1.00" fill="#1868c8"/>
<rect x="18.90" y="2.10" width="1.40" height="3.40" fill="#061a84"/>
<rect x="20.25" y="2.10" width="1.40" height="3.40" fill="#1484c0"/>
<rect x="18.90" y="5.50" width="1.40" height="0.80" fill="#2090c0"/>
<rect x="20.25" y="5.50" width="1.40" height="0.80" fill="#48c060"/>
<rect x="18.90" y="6.30" width="1.40" height="3.70" fill="#2890b0"/>
<rect x="20.25" y="6.30" width="1.40" height="3.70" fill="#d84018"/>
<rect x="21.60" y="-1.00" width="1.40" height="2.10" fill="#1848b0"/>
<rect x="22.95" y="-1.00" width="1.40" height="2.10" fill="#d8c020"/>
<rect x="21.60" y="1.10" width="1.40" height="1.00" fill="#38b0a0"/>
<rect x="22.95" y="1.10" width="1.40" height="1.00" fill="#1868c8"/>
<rect x="21.60" y="2.10" width="1.40" height="3.40" fill="#050e72"/>
<rect x="22.95" y="2.10" width="1.40" height="3.40" fill="#0a2ca4"/>
<rect x="21.60" y="5.50" width="1.40" height="0.80" fill="#2090c0"/>
<rect x="22.95" y="5.50" width="1.40" height="0.80" fill="#48c060"/>
<rect x="21.60" y="6.30" width="1.40" height="3.70" fill="#60c048"/>
<rect x="22.95" y="6.30" width="1.40" height="3.70" fill="#e07018"/>
<rect x="24.30" y="-1.00" width="1.40" height="2.10" fill="#d83818"/>
<rect x="25.65" y="-1.00" width="1.40" height="2.10" fill="#2868c0"/>
<rect x="24.30" y="1.10" width="1.40" height="1.00" fill="#38b0a0"/>
<rect x="25.65" y="1.10" width="1.40" height="1.00" fill="#1868c8"/>
<rect x="24.30" y="2.10" width="1.40" height="3.40" fill="#050e72"/>
<rect x="25.65" y="2.10" width="1.40" height="3.40" fill="#0a2ca4"/>
<rect x="24.30" y="5.50" width="1.40" height="0.80" fill="#2090c0"/>
<rect x="25.65" y="5.50" width="1.40" height="0.80" fill="#48c060"/>
<rect x="24.30" y="6.30" width="1.40" height="3.70" fill="#e8a020"/>
<rect x="25.65" y="6.30" width="1.40" height="3.70" fill="#c83018"/>
<rect x="27.00" y="-1.00" width="1.40" height="2.10" fill="#e8b020"/>
<rect x="28.35" y="-1.00" width="1.40" height="2.10" fill="#58c048"/>
<rect x="27.00" y="1.10" width="1.40" height="1.00" fill="#38b0a0"/>
<rect x="28.35" y="1.10" width="1.40" height="1.00" fill="#1868c8"/>
<rect x="27.00" y="2.10" width="1.40" height="3.40" fill="#061a84"/>
<rect x="28.35" y="2.10" width="1.40" height="3.40" fill="#1484c0"/>
<rect x="27.00" y="5.50" width="1.40" height="0.80" fill="#2090c0"/>
<rect x="28.35" y="5.50" width="1.40" height="0.80" fill="#48c060"/>
<rect x="27.00" y="6.30" width="1.40" height="3.70" fill="#2890b0"/>
<rect x="28.35" y="6.30" width="1.40" height="3.70" fill="#d84018"/>
<rect x="29.70" y="-1.00" width="1.40" height="2.10" fill="#1848b0"/>
<rect x="31.05" y="-1.00" width="1.40" height="2.10" fill="#d8c020"/>
<rect x="29.70" y="1.10" width="1.40" height="1.00" fill="#38b0a0"/>
<rect x="31.05" y="1.10" width="1.40" height="1.00" fill="#1868c8"/>
<rect x="29.70" y="2.10" width="1.40" height="3.40" fill="#050e72"/>
<rect x="31.05" y="2.10" width="1.40" height="3.40" fill="#0a2ca4"/>
<rect x="29.70" y="5.50" width="1.40" height="0.80" fill="#2090c0"/>
<rect x="31.05" y="5.50" width="1.40" height="0.80" fill="#48c060"/>
<rect x="29.70" y="6.30" width="1.40" height="3.70" fill="#60c048"/>
<rect x="31.05" y="6.30" width="1.40" height="3.70" fill="#e07018"/>
<rect x="32.40" y="-1.00" width="1.40" height="2.10" fill="#d83818"/>
<rect x="33.75" y="-1.00" width="1.40" height="2.10" fill="#2868c0"/>
<rect x="32.40" y="1.10" width="1.40" height="1.00" fill="#38b0a0"/>
<rect x="33.75" y="1.10" width="1.40" height="1.00" fill="#1868c8"/>
<rect x="32.40" y="2.10" width="1.40" height="3.40" fill="#050e72"/>
<rect x="33.75" y="2.10" width="1.40" height="3.40" fill="#0a2ca4"/>
<rect x="32.40" y="5.50" width="1.40" height="0.80" fill="#2090c0"/>
<rect x="33.75" y="5.50" width="1.40" height="0.80" fill="#48c060"/>
<rect x="32.40" y="6.30" width="1.40" height="3.70" fill="#e8a020"/>
<rect x="33.75" y="6.30" width="1.40" height="3.70" fill="#c83018"/>
<rect x="35.10" y="-1.00" width="1.40" height="2.10" fill="#e8b020"/>
<rect x="36.45" y="-1.00" width="1.40" height="2.10" fill="#58c048"/>
<rect x="35.10" y="1.10" width="1.40" height="1.00" fill="#38b0a0"/>
<rect x="36.45" y="1.10" width="1.40" height="1.00" fill="#1868c8"/>
<rect x="35.10" y="2.10" width="1.40" height="3.40" fill="#061a84"/>
<rect x="36.45" y="2.10" width="1.40" height="3.40" fill="#1484c0"/>
<rect x="35.10" y="5.50" width="1.40" height="0.80" fill="#2090c0"/>
<rect x="36.45" y="5.50" width="1.40" height="0.80" fill="#48c060"/>
<rect x="35.10" y="6.30" width="1.40" height="3.70" fill="#2890b0"/>
<rect x="36.45" y="6.30" width="1.40" height="3.70" fill="#d84018"/>
<rect x="37.80" y="-1.00" width="1.40" height="2.10" fill="#1848b0"/>
<rect x="39.15" y="-1.00" width="1.40" height="2.10" fill="#d8c020"/>
<rect x="37.80" y="1.10" width="1.40" height="1.00" fill="#38b0a0"/>
<rect x="39.15" y="1.10" width="1.40" height="1.00" fill="#1868c8"/>
<rect x="37.80" y="2.10" width="1.40" height="3.40" fill="#050e72"/>
<rect x="39.15" y="2.10" width="1.40" height="3.40" fill="#0a2ca4"/>
<rect x="37.80" y="5.50" width="1.40" height="0.80" fill="#2090c0"/>
<rect x="39.15" y="5.50" width="1.40" height="0.80" fill="#48c060"/>
<rect x="37.80" y="6.30" width="1.40" height="3.70" fill="#60c048"/>
<rect x="39.15" y="6.30" width="1.40" height="3.70" fill="#e07018"/>
<rect x="40.50" y="-1.00" width="1.40" height="2.10" fill="#d83818"/>
<rect x="41.85" y="-1.00" width="1.40" height="2.10" fill="#2868c0"/>
<rect x="40.50" y="1.10" width="1.40" height="1.00" fill="#38b0a0"/>
<rect x="41.85" y="1.10" width="1.40" height="1.00" fill="#1868c8"/>
<rect x="40.50" y="2.10" width="1.40" height="3.40" fill="#050e72"/>
<rect x="41.85" y="2.10" width="1.40" height="3.40" fill="#0a2ca4"/>
<rect x="40.50" y="5.50" width="1.40" height="0.80" fill="#2090c0"/>
<rect x="41.85" y="5.50" width="1.40" height="0.80" fill="#48c060"/>
<rect x="40.50" y="6.30" width="1.40" height="3.70" fill="#e8a020"/>
<rect x="41.85" y="6.30" width="1.40" height="3.70" fill="#c83018"/>
<rect x="43.20" y="-1.00" width="1.40" height="2.10" fill="#e8b020"/>
<rect x="44.55" y="-1.00" width="1.40" height="2.10" fill="#58c048"/>
<rect x="43.20" y="1.10" width="1.40" height="1.00" fill="#38b0a0"/>
<rect x="44.55" y="1.10" width="1.40" height="1.00" fill="#1868c8"/>
<rect x="43.20" y="2.10" width="1.40" height="3.40" fill="#061a84"/>
<rect x="44.55" y="2.10" width="1.40" height="3.40" fill="#1484c0"/>
<rect x="43.20" y="5.50" width="1.40" height="0.80" fill="#2090c0"/>
<rect x="44.55" y="5.50" width="1.40" height="0.80" fill="#48c060"/>
<rect x="43.20" y="6.30" width="1.40" height="3.70" fill="#2890b0"/>
<rect x="44.55" y="6.30" width="1.40" height="3.70" fill="#d84018"/>
<rect x="45.90" y="-1.00" width="1.40" height="2.10" fill="#1848b0"/>
<rect x="47.25" y="-1.00" width="1.40" height="2.10" fill="#d8c020"/>
<rect x="45.90" y="1.10" width="1.40" height="1.00" fill="#38b0a0"/>
<rect x="47.25" y="1.10" width="1.40" height="1.00" fill="#1868c8"/>
<rect x="45.90" y="2.10" width="1.40" height="3.40" fill="#050e72"/>
<rect x="47.25" y="2.10" width="1.40" height="3.40" fill="#0a2ca4"/>
<rect x="45.90" y="5.50" width="1.40" height="0.80" fill="#2090c0"/>
<rect x="47.25" y="5.50" width="1.40" height="0.80" fill="#48c060"/>
<rect x="45.90" y="6.30" width="1.40" height="3.70" fill="#60c048"/>
<rect x="47.25" y="6.30" width="1.40" height="3.70" fill="#e07018"/>
<rect x="48.60" y="-1.00" width="1.40" height="2.10" fill="#d83818"/>
<rect x="49.95" y="-1.00" width="1.40" height="2.10" fill="#2868c0"/>
<rect x="48.60" y="1.10" width="1.40" height="1.00" fill="#38b0a0"/>
<rect x="49.95" y="1.10" width="1.40" height="1.00" fill="#1868c8"/>
<rect x="48.60" y="2.10" width="1.40" height="3.40" fill="#050e72"/>
<rect x="49.95" y="2.10" width="1.40" height="3.40" fill="#0a2ca4"/>
<rect x="48.60" y="5.50" width="1.40" height="0.80" fill="#2090c0"/>
<rect x="49.95" y="5.50" width="1.40" height="0.80" fill="#48c060"/>
<rect x="48.60" y="6.30" width="1.40" height="3.70" fill="#e8a020"/>
<rect x="49.95" y="6.30" width="1.40" height="3.70" fill="#c83018"/>
<rect x="51.30" y="-1.00" width="1.40" height="2.10" fill="#e8b020"/>
<rect x="52.65" y="-1.00" width="1.40" height="2.10" fill="#58c048"/>
<rect x="51.30" y="1.10" width="1.40" height="1.00" fill="#38b0a0"/>
<rect x="52.65" y="1.10" width="1.40" height="1.00" fill="#1868c8"/>
<rect x="51.30" y="2.10" width="1.40" height="3.40" fill="#061a84"/>
<rect x="52.65" y="2.10" width="1.40" height="3.40" fill="#1484c0"/>
<rect x="51.30" y="5.50" width="1.40" height="0.80" fill="#2090c0"/>
<rect x="52.65" y="5.50" width="1.40" height="0.80" fill="#48c060"/>
<rect x="51.30" y="6.30" width="1.40" height="3.70" fill="#2890b0"/>
<rect x="52.65" y="6.30" width="1.40" height="3.70" fill="#d84018"/>
<rect x="54.00" y="-1.00" width="1.40" height="2.10" fill="#1848b0"/>
<rect x="55.35" y="-1.00" width="1.40" height="2.10" fill="#d8c020"/>
<rect x="54.00" y="1.10" width="1.40" height="1.00" fill="#38b0a0"/>
<rect x="55.35" y="1.10" width="1.40" height="1.00" fill="#1868c8"/>
<rect x="54.00" y="2.10" width="1.40" height="3.40" fill="#050e72"/>
<rect x="55.35" y="2.10" width="1.40" height="3.40" fill="#0a2ca4"/>
<rect x="54.00" y="5.50" width="1.40" height="0.80" fill="#2090c0"/>
<rect x="55.35" y="5.50" width="1.40" height="0.80" fill="#48c060"/>
<rect x="54.00" y="6.30" width="1.40" height="3.70" fill="#60c048"/>
<rect x="55.35" y="6.30" width="1.40" height="3.70" fill="#e07018"/>
<rect x="56.70" y="-1.00" width="1.40" height="2.10" fill="#d83818"/>
<rect x="58.05" y="-1.00" width="1.40" height="2.10" fill="#2868c0"/>
<rect x="56.70" y="1.10" width="1.40" height="1.00" fill="#38b0a0"/>
<rect x="58.05" y="1.10" width="1.40" height="1.00" fill="#1868c8"/>
<rect x="56.70" y="2.10" width="1.40" height="3.40" fill="#050e72"/>
<rect x="58.05" y="2.10" width="1.40" height="3.40" fill="#0a2ca4"/>
<rect x="56.70" y="5.50" width="1.40" height="0.80" fill="#2090c0"/>
<rect x="58.05" y="5.50" width="1.40" height="0.80" fill="#48c060"/>
<rect x="56.70" y="6.30" width="1.40" height="3.70" fill="#e8a020"/>
<rect x="58.05" y="6.30" width="1.40" height="3.70" fill="#c83018"/>
<rect x="59.40" y="-1.00" width="1.40" height="2.10" fill="#e8b020"/>
<rect x="60.75" y="-1.00" width="1.40" height="2.10" fill="#58c048"/>
<rect x="59.40" y="1.10" width="1.40" height="1.00" fill="#38b0a0"/>
<rect x="60.75" y="1.10" width="1.40" height="1.00" fill="#1868c8"/>
<rect x="59.40" y="2.10" width="1.40" height="3.40" fill="#061a84"/>
<rect x="60.75" y="2.10" width="1.40" height="3.40" fill="#1484c0"/>
<rect x="59.40" y="5.50" width="1.40" height="0.80" fill="#2090c0"/>
<rect x="60.75" y="5.50" width="1.40" height="0.80" fill="#48c060"/>
<rect x="59.40" y="6.30" width="1.40" height="3.70" fill="#2890b0"/>
<rect x="60.75" y="6.30" width="1.40" height="3.70" fill="#d84018"/>
<rect x="62.10" y="-1.00" width="1.40" height="2.10" fill="#1848b0"/>
<rect x="63.45" y="-1.00" width="1.40" height="2.10" fill="#d8c020"/>
<rect x="62.10" y="1.10" width="1.40" height="1.00" fill="#38b0a0"/>
<rect x="63.45" y="1.10" width="1.40" height="1.00" fill="#1868c8"/>
<rect x="62.10" y="2.10" width="1.40" height="3.40" fill="#050e72"/>
<rect x="63.45" y="2.10" width="1.40" height="3.40" fill="#0a2ca4"/>
<rect x="62.10" y="5.50" width="1.40" height="0.80" fill="#2090c0"/>
<rect x="63.45" y="5.50" width="1.40" height="0.80" fill="#48c060"/>
<rect x="62.10" y="6.30" width="1.40" height="3.70" fill="#60c048"/>
<rect x="63.45" y="6.30" width="1.40" height="3.70" fill="#e07018"/>
<rect x="64.80" y="-1.00" width="1.40" height="2.10" fill="#d83818"/>
<rect x="66.15" y="-1.00" width="1.40" height="2.10" fill="#2868c0"/>
<rect x="64.80" y="1.10" width="1.40" height="1.00" fill="#38b0a0"/>
<rect x="66.15" y="1.10" width="1.40" height="1.00" fill="#1868c8"/>
<rect x="64.80" y="2.10" width="1.40" height="3.40" fill="#050e72"/>
<rect x="66.15" y="2.10" width="1.40" height="3.40" fill="#0a2ca4"/>
<rect x="64.80" y="5.50" width="1.40" height="0.80" fill="#2090c0"/>
<rect x="66.15" y="5.50" width="1.40" height="0.80" fill="#48c060"/>
<rect x="64.80" y="6.30" width="1.40" height="3.70" fill="#e8a020"/>
<rect x="66.15" y="6.30" width="1.40" height="3.70" fill="#c83018"/>
<rect x="67.50" y="-1.00" width="1.40" height="2.10" fill="#e8b020"/>
<rect x="68.85" y="-1.00" width="1.40" height="2.10" fill="#58c048"/>
<rect x="67.50" y="1.10" width="1.40" height="1.00" fill="#38b0a0"/>
<rect x="68.85" y="1.10" width="1.40" height="1.00" fill="#1868c8"/>
<rect x="67.50" y="2.10" width="1.40" height="3.40" fill="#061a84"/>
<rect x="68.85" y="2.10" width="1.40" height="3.40" fill="#1484c0"/>
<rect x="67.50" y="5.50" width="1.40" height="0.80" fill="#2090c0"/>
<rect x="68.85" y="5.50" width="1.40" height="0.80" fill="#48c060"/>
<rect x="67.50" y="6.30" width="1.40" height="3.70" fill="#2890b0"/>
<rect x="68.85" y="6.30" width="1.40" height="3.70" fill="#d84018"/>
<rect x="70.20" y="-1.00" width="1.40" height="2.10" fill="#1848b0"/>
<rect x="71.55" y="-1.00" width="1.40" height="2.10" fill="#d8c020"/>
<rect x="70.20" y="1.10" width="1.40" height="1.00" fill="#38b0a0"/>
<rect x="71.55" y="1.10" width="1.40" height="1.00" fill="#1868c8"/>
<rect x="70.20" y="2.10" width="1.40" height="3.40" fill="#050e72"/>
<rect x="71.55" y="2.10" width="1.40" height="3.40" fill="#0a2ca4"/>
<rect x="70.20" y="5.50" width="1.40" height="0.80" fill="#2090c0"/>
<rect x="71.55" y="5.50" width="1.40" height="0.80" fill="#48c060"/>
<rect x="70.20" y="6.30" width="1.40" height="3.70" fill="#60c048"/>
<rect x="71.55" y="6.30" width="1.40" height="3.70" fill="#e07018"/>
<rect x="72.90" y="-1.00" width="1.40" height="2.10" fill="#d83818"/>
<rect x="74.25" y="-1.00" width="1.40" height="2.10" fill="#2868c0"/>
<rect x="72.90" y="1.10" width="1.40" height="1.00" fill="#38b0a0"/>
<rect x="74.25" y="1.10" width="1.40" height="1.00" fill="#1868c8"/>
<rect x="72.90" y="2.10" width="1.40" height="3.40" fill="#050e72"/>
<rect x="74.25" y="2.10" width="1.40" height="3.40" fill="#0a2ca4"/>
<rect x="72.90" y="5.50" width="1.40" height="0.80" fill="#2090c0"/>
<rect x="74.25" y="5.50" width="1.40" height="0.80" fill="#48c060"/>
<rect x="72.90" y="6.30" width="1.40" height="3.70" fill="#e8a020"/>
<rect x="74.25" y="6.30" width="1.40" height="3.70" fill="#c83018"/>
<rect x="75.60" y="-1.00" width="1.40" height="2.10" fill="#e8b020"/>
<rect x="76.95" y="-1.00" width="1.40" height="2.10" fill="#58c048"/>
<rect x="75.60" y="1.10" width="1.40" height="1.00" fill="#38b0a0"/>
<rect x="76.95" y="1.10" width="1.40" height="1.00" fill="#1868c8"/>
<rect x="75.60" y="2.10" width="1.40" height="3.40" fill="#061a84"/>
<rect x="76.95" y="2.10" width="1.40" height="3.40" fill="#1484c0"/>
<rect x="75.60" y="5.50" width="1.40" height="0.80" fill="#2090c0"/>
<rect x="76.95" y="5.50" width="1.40" height="0.80" fill="#48c060"/>
<rect x="75.60" y="6.30" width="1.40" height="3.70" fill="#2890b0"/>
<rect x="76.95" y="6.30" width="1.40" height="3.70" fill="#d84018"/>
<rect x="78.30" y="-1.00" width="1.40" height="2.10" fill="#1848b0"/>
<rect x="79.65" y="-1.00" width="1.40" height="2.10" fill="#d8c020"/>
<rect x="78.30" y="1.10" width="1.40" height="1.00" fill="#38b0a0"/>
<rect x="79.65" y="1.10" width="1.40" height="1.00" fill="#1868c8"/>
<rect x="78.30" y="2.10" width="1.40" height="3.40" fill="#050e72"/>
<rect x="79.65" y="2.10" width="1.40" height="3.40" fill="#0a2ca4"/>
<rect x="78.30" y="5.50" width="1.40" height="0.80" fill="#2090c0"/>
<rect x="79.65" y="5.50" width="1.40" height="0.80" fill="#48c060"/>
<rect x="78.30" y="6.30" width="1.40" height="3.70" fill="#60c048"/>
<rect x="79.65" y="6.30" width="1.40" height="3.70" fill="#e07018"/>
<rect x="81.00" y="-1.00" width="1.40" height="2.10" fill="#d83818"/>
<rect x="82.35" y="-1.00" width="1.40" height="2.10" fill="#2868c0"/>
<rect x="81.00" y="1.10" width="1.40" height="1.00" fill="#38b0a0"/>
<rect x="82.35" y="1.10" width="1.40" height="1.00" fill="#1868c8"/>
<rect x="81.00" y="2.10" width="1.40" height="3.40" fill="#050e72"/>
<rect x="82.35" y="2.10" width="1.40" height="3.40" fill="#0a2ca4"/>
<rect x="81.00" y="5.50" width="1.40" height="0.80" fill="#2090c0"/>
<rect x="82.35" y="5.50" width="1.40" height="0.80" fill="#48c060"/>
<rect x="81.00" y="6.30" width="1.40" height="3.70" fill="#e8a020"/>
<rect x="82.35" y="6.30" width="1.40" height="3.70" fill="#c83018"/>
<rect x="83.70" y="-1.00" width="1.40" height="2.10" fill="#e8b020"/>
<rect x="85.05" y="-1.00" width="1.40" height="2.10" fill="#58c048"/>
<rect x="83.70" y="1.10" width="1.40" height="1.00" fill="#38b0a0"/>
<rect x="85.05" y="1.10" width="1.40" height="1.00" fill="#1868c8"/>
<rect x="83.70" y="2.10" width="1.40" height="3.40" fill="#061a84"/>
<rect x="85.05" y="2.10" width="1.40" height="3.40" fill="#1484c0"/>
<rect x="83.70" y="5.50" width="1.40" height="0.80" fill="#2090c0"/>
<rect x="85.05" y="5.50" width="1.40" height="0.80" fill="#48c060"/>
<rect x="83.70" y="6.30" width="1.40" height="3.70" fill="#2890b0"/>
<rect x="85.05" y="6.30" width="1.40" height="3.70" fill="#d84018"/>
</g></g>
<path d="M312.5 48.4 L295 72" stroke="#1a1a1a" stroke-width="0.75"/><circle cx="294.8" cy="72.3" r="1.05" fill="#0a0a0a"/>
<path d="M341.5 42 L351.8 74" stroke="#1a1a1a" stroke-width="0.75"/><circle cx="351.9" cy="74.3" r="1.05" fill="#0a0a0a"/>
<text x="251.1" y="40.7" style="font-size:5.6px">f = 2.86 THz</text>
<text x="248.1" y="47.1" style="font-size:5.6px">g<tspan dy="1" style="font-size:4.8px">th</tspan><tspan dy="-1"> = 1.41 cm</tspan><tspan dy="-2.2" style="font-size:3.4px">-1</tspan></text>
<text x="320.2" y="11.4" style="font-size:5.6px">f = 3.29 THz</text>
<text x="315.4" y="17.9" style="font-size:5.6px">g<tspan dy="1" style="font-size:4.8px">th</tspan><tspan dy="-1"> = 0.65 cm</tspan><tspan dy="-2.2" style="font-size:3.4px">-1</tspan></text>
<text x="65" y="117.6">(c)</text>
<text class="b" x="126.4" y="117.5" text-anchor="middle" style="font-size:5.57px">Ring-to-waveguide coupling</text>
<polyline class="bl" points="89.50,120.90 90.99,121.50 92.48,122.12 93.96,122.75 95.45,123.38 96.94,124.03 98.43,124.70 99.92,125.37 101.40,126.05 102.89,126.75 104.38,127.46 105.87,128.18 107.36,128.91 108.84,129.65 110.33,130.41 111.82,131.17 113.31,131.95 114.80,132.74 116.28,133.54 117.77,134.35 119.26,135.18 120.75,136.01 122.24,136.86 123.72,137.72 125.21,138.59 126.70,139.47 128.19,140.37 129.68,141.27 131.16,142.19 132.65,143.12 134.14,144.06 135.63,145.01 137.12,145.97 138.60,146.95 140.09,147.94 141.58,148.93 143.07,149.94 144.56,150.97 146.04,152.00 147.53,153.04 149.02,154.10 150.51,155.17 152.00,156.25 153.48,157.34 154.97,158.44 156.46,159.55 157.95,160.68 159.44,161.82 160.92,162.97 162.41,164.13 163.90,165.30"/>
<rect class="ax" x="89.5" y="120.9" width="74.4" height="47.4"/>
<path class="tk" d="M89.5 168.3v-1M89.5 120.9v1"/>
<text x="89.5" y="174.5" text-anchor="middle" style="font-size:5.5px">0</text>
<path class="tk" d="M104.4 168.3v-1M104.4 120.9v1"/>
<text x="104.4" y="174.5" text-anchor="middle" style="font-size:5.5px">2</text>
<path class="tk" d="M119.3 168.3v-1M119.3 120.9v1"/>
<text x="119.3" y="174.5" text-anchor="middle" style="font-size:5.5px">4</text>
<path class="tk" d="M134.1 168.3v-1M134.1 120.9v1"/>
<text x="134.1" y="174.5" text-anchor="middle" style="font-size:5.5px">6</text>
<path class="tk" d="M149.0 168.3v-1M149.0 120.9v1"/>
<text x="149.0" y="174.5" text-anchor="middle" style="font-size:5.5px">8</text>
<path class="tk" d="M163.9 168.3v-1M163.9 120.9v1"/>
<text x="163.9" y="174.5" text-anchor="middle" style="font-size:5.5px">10</text>
<path class="tk" d="M89.5 120.90h1"/>
<path class="tk" d="M163.9 120.90h-1"/>
<text x="88.1" y="122.80" text-anchor="end" style="font-size:5.5px">0</text>
<path class="tk" d="M89.5 135.70h1"/>
<path class="tk" d="M163.9 135.70h-1"/>
<text x="88.1" y="137.60" text-anchor="end" style="font-size:5.5px">-5</text>
<path class="tk" d="M89.5 150.50h1"/>
<path class="tk" d="M163.9 150.50h-1"/>
<text x="88.1" y="152.40" text-anchor="end" style="font-size:5.5px">-10</text>
<path class="tk" d="M89.5 165.30h1"/>
<path class="tk" d="M163.9 165.30h-1"/>
<text x="88.1" y="167.20" text-anchor="end" style="font-size:5.5px">-15</text>
<text x="126.5" y="180.5" text-anchor="middle">Distance (µm)</text>
<text transform="translate(76.8 145) rotate(-90)" text-anchor="middle">Coupling |S<tspan dy="1" style="font-size:3.6px">31,2</tspan><tspan dy="-1">|</tspan><tspan dy="-1.8" style="font-size:3.6px">2</tspan><tspan dy="1.8"> (dB)</tspan></text>
<text x="174.5" y="117.7">(d)</text>
<text class="b" x="234" y="117.5" text-anchor="middle" style="font-size:5.57px">Ring-to-waveguide coupling</text>
<path class="bl" d="M196.70 165.55 C197.11 165.38 198.34 164.83 199.17 164.51 C200.01 164.19 200.63 163.96 201.72 163.61 C202.80 163.27 204.03 162.86 205.69 162.42 C207.35 161.99 209.43 161.40 211.68 161.01 C213.93 160.61 216.67 160.30 219.17 160.04 C221.67 159.78 224.16 159.62 226.66 159.44 C229.16 159.27 231.65 159.12 234.15 159.00 C236.65 158.87 239.14 158.76 241.64 158.70 C244.14 158.63 246.63 158.62 249.13 158.62 C251.63 158.62 254.12 158.63 256.62 158.70 C259.12 158.76 261.61 158.87 264.11 159.00 C266.61 159.12 270.35 159.37 271.60 159.44"/>
<rect class="ax" x="196.7" y="121.0" width="74.9" height="47.5"/>
<path class="tk" d="M196.7 168.5v-1M196.7 121.0v1"/>
<text x="196.7" y="174.7" text-anchor="middle" style="font-size:5.5px">0</text>
<path class="tk" d="M211.7 168.5v-1M211.7 121.0v1"/>
<text x="211.7" y="174.7" text-anchor="middle" style="font-size:5.5px">2</text>
<path class="tk" d="M226.7 168.5v-1M226.7 121.0v1"/>
<text x="226.7" y="174.7" text-anchor="middle" style="font-size:5.5px">4</text>
<path class="tk" d="M241.6 168.5v-1M241.6 121.0v1"/>
<text x="241.6" y="174.7" text-anchor="middle" style="font-size:5.5px">6</text>
<path class="tk" d="M256.6 168.5v-1M256.6 121.0v1"/>
<text x="256.6" y="174.7" text-anchor="middle" style="font-size:5.5px">8</text>
<path class="tk" d="M271.6 168.5v-1M271.6 121.0v1"/>
<text x="271.6" y="174.7" text-anchor="middle" style="font-size:5.5px">10</text>
<path class="tk" d="M196.7 121.00h1"/>
<path class="tk" d="M271.6 121.00h-1"/>
<text x="195.3" y="122.90" text-anchor="end" style="font-size:5.5px">0</text>
<path class="tk" d="M196.7 135.90h1"/>
<path class="tk" d="M271.6 135.90h-1"/>
<text x="195.3" y="137.80" text-anchor="end" style="font-size:5.5px">-10</text>
<path class="tk" d="M196.7 150.80h1"/>
<path class="tk" d="M271.6 150.80h-1"/>
<text x="195.3" y="152.70" text-anchor="end" style="font-size:5.5px">-20</text>
<path class="tk" d="M196.7 165.70h1"/>
<path class="tk" d="M271.6 165.70h-1"/>
<text x="195.3" y="167.60" text-anchor="end" style="font-size:5.5px">-30</text>
<text x="234.2" y="180.5" text-anchor="middle">Distance (µm)</text>
<text transform="translate(185.6 145.4) rotate(-90)" text-anchor="middle">Coupling |S<tspan dy="1" style="font-size:3.6px">31,2</tspan><tspan dy="-1">|</tspan><tspan dy="-1.8" style="font-size:3.6px">2</tspan><tspan dy="1.8"> (dB)</tspan></text>
<text x="282.6" y="117.6">(e)</text>
<text class="b" x="336.4" y="117.5" text-anchor="middle" style="font-size:5.5px">Bus transmission</text>
<path d="M321.7 120.7V168.3" stroke="#444" stroke-width="0.6" stroke-dasharray="0.6 0.8"/>
<path class="bl" d="M299.90 158.54 C300.21 158.77 301.14 159.46 301.76 159.91 C302.39 160.35 303.01 160.78 303.63 161.20 C304.25 161.61 304.87 162.02 305.50 162.41 C306.12 162.80 306.74 163.17 307.36 163.54 C307.98 163.90 308.60 164.25 309.22 164.58 C309.85 164.91 310.47 165.23 311.09 165.52 C311.71 165.82 312.33 166.11 312.95 166.37 C313.58 166.63 314.20 166.87 314.82 167.10 C315.44 167.32 316.06 167.52 316.69 167.69 C317.31 167.86 317.93 168.03 318.55 168.13 C319.17 168.23 319.79 168.29 320.41 168.30 C321.04 168.30 321.66 168.24 322.28 168.16 C322.90 168.08 323.52 167.97 324.14 167.83 C324.77 167.69 325.39 167.52 326.01 167.32 C326.63 167.11 327.25 166.88 327.88 166.62 C328.50 166.36 329.12 166.06 329.74 165.74 C330.36 165.42 330.98 165.07 331.60 164.70 C332.23 164.32 332.85 163.92 333.47 163.50 C334.09 163.07 334.71 162.62 335.33 162.15 C335.96 161.68 336.58 161.18 337.20 160.67 C337.82 160.16 338.44 159.63 339.06 159.08 C339.69 158.53 340.31 157.96 340.93 157.38 C341.55 156.80 342.17 156.21 342.80 155.60 C343.42 155.00 344.04 154.38 344.66 153.76 C345.28 153.13 345.90 152.50 346.52 151.86 C347.15 151.23 347.77 150.58 348.39 149.94 C349.01 149.30 349.63 148.65 350.25 148.01 C350.88 147.37 351.50 146.73 352.12 146.09 C352.74 145.46 353.36 144.82 353.99 144.20 C354.61 143.58 355.23 142.96 355.85 142.36 C356.47 141.75 357.09 141.16 357.71 140.58 C358.34 140.00 358.96 139.44 359.58 138.89 C360.20 138.34 360.82 137.81 361.44 137.30 C362.07 136.79 362.69 136.30 363.31 135.83 C363.93 135.36 364.55 134.91 365.18 134.49 C365.80 134.07 366.42 133.67 367.04 133.29 C367.66 132.92 368.28 132.57 368.90 132.26 C369.53 131.94 370.15 131.65 370.77 131.39 C371.39 131.13 372.01 130.90 372.63 130.70 C373.26 130.50 374.19 130.28 374.50 130.19"/>
<rect class="ax" x="299.9" y="120.7" width="74.6" height="47.6"/>
<path class="tk" d="M299.9 168.3v-1M299.9 120.7v1"/>
<text x="299.9" y="174.5" text-anchor="middle" style="font-size:5.5px">0</text>
<path class="tk" d="M314.8 168.3v-1M314.8 120.7v1"/>
<text x="314.8" y="174.5" text-anchor="middle" style="font-size:5.5px">2</text>
<path class="tk" d="M329.7 168.3v-1M329.7 120.7v1"/>
<text x="329.7" y="174.5" text-anchor="middle" style="font-size:5.5px">4</text>
<path class="tk" d="M344.7 168.3v-1M344.7 120.7v1"/>
<text x="344.7" y="174.5" text-anchor="middle" style="font-size:5.5px">6</text>
<path class="tk" d="M359.6 168.3v-1M359.6 120.7v1"/>
<text x="359.6" y="174.5" text-anchor="middle" style="font-size:5.5px">8</text>
<path class="tk" d="M374.5 168.3v-1M374.5 120.7v1"/>
<text x="374.5" y="174.5" text-anchor="middle" style="font-size:5.5px">10</text>
<path class="tk" d="M299.9 168.30h1"/>
<path class="tk" d="M374.5 168.30h-1"/>
<text x="298.5" y="170.20" text-anchor="end" style="font-size:5.5px">0</text>
<path class="tk" d="M299.9 158.78h1"/>
<path class="tk" d="M374.5 158.78h-1"/>
<text x="298.5" y="160.68" text-anchor="end" style="font-size:5.5px">0.2</text>
<path class="tk" d="M299.9 149.26h1"/>
<path class="tk" d="M374.5 149.26h-1"/>
<text x="298.5" y="151.16" text-anchor="end" style="font-size:5.5px">0.4</text>
<path class="tk" d="M299.9 139.74h1"/>
<path class="tk" d="M374.5 139.74h-1"/>
<text x="298.5" y="141.64" text-anchor="end" style="font-size:5.5px">0.6</text>
<path class="tk" d="M299.9 130.22h1"/>
<path class="tk" d="M374.5 130.22h-1"/>
<text x="298.5" y="132.12" text-anchor="end" style="font-size:5.5px">0.8</text>
<path class="tk" d="M299.9 120.70h1"/>
<path class="tk" d="M374.5 120.70h-1"/>
<text x="298.5" y="122.60" text-anchor="end" style="font-size:5.5px">1</text>
<text x="337.2" y="180.5" text-anchor="middle">Distance (µm)</text>
<text transform="translate(286.9 144.3) rotate(-90)" text-anchor="middle">Transmission</text>
<text x="342.6" y="133.4" text-anchor="middle">critical coupling</text>
<text x="342.6" y="139.8" text-anchor="middle">at 3.3 THz</text>
<path d="M339.9 144.3 L323.6 165.1" stroke="#1a1a1a" stroke-width="0.7"/><path d="M322 167.1 L322.9 163.7 L325.1 165.4 Z" fill="#111" stroke="#111" stroke-width="0.3"/>
<text x="99" y="191.6">(f)</text>
<path class="rd" d="M120.80 233.60 C121.42 233.07 123.19 231.53 124.54 230.40 C125.89 229.27 127.45 228.05 128.90 226.80 C130.36 225.55 131.84 224.15 133.27 222.90 C134.69 221.65 136.09 220.45 137.44 219.30 C138.79 218.15 139.94 217.18 141.37 216.00 C142.80 214.82 144.61 213.27 146.04 212.20 C147.48 211.13 148.54 210.57 149.97 209.60 C151.41 208.63 152.96 207.40 154.65 206.40 C156.33 205.40 158.21 204.50 160.07 203.60 C161.93 202.70 163.90 201.72 165.80 201.00 C167.71 200.28 169.63 199.82 171.48 199.30 C173.33 198.78 174.96 198.33 176.90 197.90 C178.84 197.47 181.06 197.07 183.13 196.70 C185.21 196.33 187.29 196.02 189.37 195.70 C191.44 195.38 194.56 194.95 195.60 194.80"/>
<path class="bl" d="M120.80 235.60 C121.11 235.65 121.84 235.88 122.67 235.90 C123.50 235.92 124.85 235.70 125.79 235.70 C126.72 235.70 127.45 235.92 128.28 235.90 C129.11 235.88 129.94 235.60 130.77 235.60 C131.60 235.60 132.02 235.77 133.27 235.90 C134.51 236.03 136.59 236.25 138.25 236.40 C139.92 236.55 141.58 236.70 143.24 236.80 C144.90 236.90 146.56 236.97 148.23 237.00 C149.89 237.03 151.55 237.02 153.21 237.00 C154.88 236.98 156.85 236.97 158.20 236.90 C159.55 236.83 160.49 236.77 161.32 236.60 C162.15 236.43 162.56 236.27 163.19 235.90 C163.81 235.53 164.39 235.03 165.06 234.40 C165.72 233.77 166.45 233.20 167.18 232.10 C167.90 231.00 168.70 229.22 169.42 227.80 C170.14 226.38 170.75 225.10 171.48 223.60 C172.20 222.10 172.90 220.60 173.78 218.80 C174.67 217.00 175.84 214.53 176.78 212.80 C177.71 211.07 178.49 209.83 179.39 208.40 C180.30 206.97 181.38 205.43 182.20 204.20 C183.02 202.97 183.60 202.25 184.32 201.00 C185.03 199.75 185.87 197.70 186.50 196.70 C187.13 195.70 187.59 195.42 188.12 195.00 C188.65 194.58 189.07 194.45 189.68 194.20 C190.29 193.95 191.12 193.50 191.80 193.50 C192.47 193.50 193.12 193.83 193.73 194.20 C194.34 194.57 195.18 195.45 195.48 195.70"/>
<rect class="ax" x="120.8" y="189.9" width="74.8" height="47.4"/>
<path class="tk" d="M120.8 237.3v-1M120.8 189.9v1"/>
<text x="120.8" y="243.5" text-anchor="middle" style="font-size:5.5px">0</text>
<path class="tk" d="M133.3 237.3v-1M133.3 189.9v1"/>
<text x="133.3" y="243.5" text-anchor="middle" style="font-size:5.5px">20</text>
<path class="tk" d="M145.7 237.3v-1M145.7 189.9v1"/>
<text x="145.7" y="243.5" text-anchor="middle" style="font-size:5.5px">40</text>
<path class="tk" d="M158.2 237.3v-1M158.2 189.9v1"/>
<text x="158.2" y="243.5" text-anchor="middle" style="font-size:5.5px">60</text>
<path class="tk" d="M170.7 237.3v-1M170.7 189.9v1"/>
<text x="170.7" y="243.5" text-anchor="middle" style="font-size:5.5px">80</text>
<path class="tk" d="M183.1 237.3v-1M183.1 189.9v1"/>
<text x="183.1" y="243.5" text-anchor="middle" style="font-size:5.5px">100</text>
<path class="tk" d="M195.6 237.3v-1M195.6 189.9v1"/>
<text x="195.6" y="243.5" text-anchor="middle" style="font-size:5.5px">120</text>
<path class="tk" d="M120.8 237.30h1"/>
<text x="119.4" y="239.20" text-anchor="end" style="font-size:5.5px">0</text>
<path class="tk" d="M120.8 227.82h1"/>
<text x="119.4" y="229.72" text-anchor="end" style="font-size:5.5px">30</text>
<path class="tk" d="M120.8 218.34h1"/>
<text x="119.4" y="220.24" text-anchor="end" style="font-size:5.5px">60</text>
<path class="tk" d="M120.8 208.86h1"/>
<text x="119.4" y="210.76" text-anchor="end" style="font-size:5.5px">90</text>
<path class="tk" d="M120.8 199.38h1"/>
<text x="119.4" y="201.28" text-anchor="end" style="font-size:5.5px">120</text>
<path class="tk" d="M120.8 189.90h1"/>
<text x="119.4" y="191.80" text-anchor="end" style="font-size:5.5px">150</text>
<path class="tk" d="M195.6 227.82h-1"/>
<text x="196.8" y="229.72" style="font-size:5.5px">2</text>
<path class="tk" d="M195.6 218.34h-1"/>
<text x="196.8" y="220.24" style="font-size:5.5px">4</text>
<path class="tk" d="M195.6 208.86h-1"/>
<text x="196.8" y="210.76" style="font-size:5.5px">6</text>
<path class="tk" d="M195.6 199.38h-1"/>
<text x="196.8" y="201.28" style="font-size:5.5px">8</text>
<path class="tk" d="M195.6 189.90h-1"/>
<text x="196.8" y="191.80" style="font-size:5.5px">10</text>
<text x="158.2" y="249.6" text-anchor="middle">Current Density (mA/cm<tspan dy="-1.8" style="font-size:3.6px">2</tspan><tspan dy="1.8">)</tspan></text>
<text transform="translate(106.2 213.6) rotate(-90)" text-anchor="middle">Power (µW)</text>
<text transform="translate(207.8 212.8) rotate(-90)" text-anchor="middle">Voltage (V)</text>
<text x="218.6" y="191.6">(g)</text>
<path class="rd" d="M240.22 233.30 C240.31 232.78 240.52 231.12 240.72 230.20 C240.92 229.28 241.14 228.53 241.41 227.80 C241.67 227.07 241.99 226.40 242.34 225.80 C242.69 225.20 242.91 224.90 243.52 224.20 C244.13 223.50 245.10 222.42 246.01 221.60 C246.91 220.78 247.74 220.15 248.93 219.30 C250.12 218.45 251.73 217.47 253.16 216.50 C254.59 215.53 256.06 214.58 257.51 213.50 C258.96 212.42 260.44 211.18 261.86 210.00 C263.28 208.82 264.67 207.47 266.02 206.40 C267.38 205.33 268.57 204.48 270.00 203.60 C271.43 202.72 272.96 201.83 274.60 201.10 C276.25 200.37 278.02 199.75 279.89 199.20 C281.75 198.65 283.86 198.17 285.79 197.80 C287.73 197.43 288.77 197.50 291.51 197.00 C294.26 196.50 298.67 195.48 302.27 194.80 C305.87 194.12 311.28 193.22 313.09 192.90"/>
<path class="bl" d="M240.19 233.40 C240.87 233.72 242.91 234.77 244.27 235.30 C245.62 235.83 246.73 236.30 248.31 236.60 C249.88 236.90 252.14 237.18 253.72 237.10 C255.29 237.02 256.18 236.57 257.76 236.10 C259.33 235.63 261.59 234.57 263.17 234.30 C264.74 234.03 265.86 234.20 267.21 234.50 C268.55 234.80 269.90 235.63 271.25 236.10 C272.59 236.57 274.17 237.12 275.29 237.30 C276.41 237.48 276.84 237.45 277.96 237.20 C279.08 236.95 280.65 236.35 282.00 235.80 C283.36 235.25 284.75 234.83 286.11 233.90 C287.46 232.97 289.03 231.68 290.15 230.20 C291.27 228.72 291.70 227.30 292.82 225.00 C293.94 222.70 295.51 218.87 296.86 216.40 C298.21 213.93 299.56 212.00 300.90 210.20 C302.25 208.40 303.59 207.10 304.94 205.60 C306.30 204.10 307.67 202.57 309.05 201.20 C310.42 199.83 312.52 198.03 313.21 197.40"/>
<rect class="ax" x="240.1" y="190.1" width="74.6" height="47.3"/>
<path class="tk" d="M240.1 237.4v-1M240.1 190.1v1"/>
<text x="240.1" y="243.6" text-anchor="middle" style="font-size:5.5px">0</text>
<path class="tk" d="M252.5 237.4v-1M252.5 190.1v1"/>
<text x="252.5" y="243.6" text-anchor="middle" style="font-size:5.5px">20</text>
<path class="tk" d="M265.0 237.4v-1M265.0 190.1v1"/>
<text x="265.0" y="243.6" text-anchor="middle" style="font-size:5.5px">40</text>
<path class="tk" d="M277.4 237.4v-1M277.4 190.1v1"/>
<text x="277.4" y="243.6" text-anchor="middle" style="font-size:5.5px">60</text>
<path class="tk" d="M289.8 237.4v-1M289.8 190.1v1"/>
<text x="289.8" y="243.6" text-anchor="middle" style="font-size:5.5px">80</text>
<path class="tk" d="M302.3 237.4v-1M302.3 190.1v1"/>
<text x="302.3" y="243.6" text-anchor="middle" style="font-size:5.5px">100</text>
<path class="tk" d="M314.7 237.4v-1M314.7 190.1v1"/>
<text x="314.7" y="243.6" text-anchor="middle" style="font-size:5.5px">120</text>
<path class="tk" d="M240.1 234.80h1"/>
<text x="238.7" y="236.70" text-anchor="end" style="font-size:5.5px">0</text>
<path class="tk" d="M240.1 219.80h1"/>
<text x="238.7" y="221.70" text-anchor="end" style="font-size:5.5px">5</text>
<path class="tk" d="M240.1 204.80h1"/>
<text x="238.7" y="206.70" text-anchor="end" style="font-size:5.5px">10</text>
<path class="tk" d="M240.1 189.80h1"/>
<text x="238.7" y="191.70" text-anchor="end" style="font-size:5.5px">15</text>
<path class="tk" d="M314.7 227.94h-1"/>
<text x="315.9" y="229.84" style="font-size:5.5px">2</text>
<path class="tk" d="M314.7 218.48h-1"/>
<text x="315.9" y="220.38" style="font-size:5.5px">4</text>
<path class="tk" d="M314.7 209.02h-1"/>
<text x="315.9" y="210.92" style="font-size:5.5px">6</text>
<path class="tk" d="M314.7 199.56h-1"/>
<text x="315.9" y="201.46" style="font-size:5.5px">8</text>
<path class="tk" d="M314.7 190.10h-1"/>
<text x="315.9" y="192.00" style="font-size:5.5px">10</text>
<text x="277.6" y="249.6" text-anchor="middle">Current Density (mA/cm<tspan dy="-1.8" style="font-size:3.6px">2</tspan><tspan dy="1.8">)</tspan></text>
<text transform="translate(226.4 213.6) rotate(-90)" text-anchor="middle">Power (µW)</text>
<text transform="translate(325.3 213.0) rotate(-90)" text-anchor="middle">Voltage (V)</text>
</svg></body></html>
